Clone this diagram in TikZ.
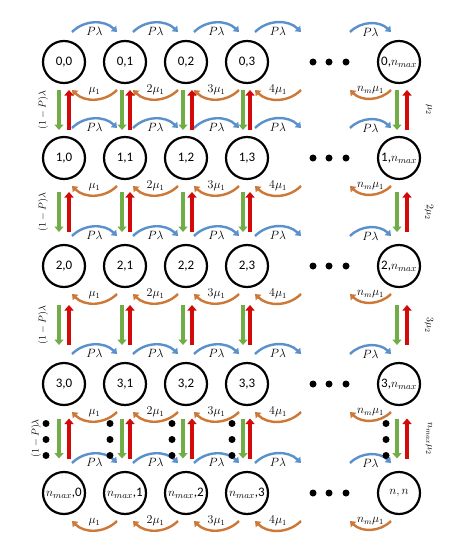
\documentclass[tikz,border=0pt]{standalone}
\usepackage{fontspec}
\setmainfont{Carlito}
\usetikzlibrary{arrows.meta,calc}
\definecolor{arcblue}{RGB}{90,145,205}
\definecolor{arcorange}{RGB}{205,120,55}
\definecolor{arrgreen}{RGB}{112,173,71}
\definecolor{arrred}{RGB}{210,10,10}
\tikzset{
  state/.style={draw, circle, line width=2.2pt, minimum size=42pt, inner sep=0pt, font=\fontsize{13}{15}\selectfont},
  parc/.style={draw=arcblue, line width=2.4pt, -{Triangle[width=7.5pt,length=5pt]}, bend left=45},
  marc/.style={draw=arcorange, line width=2.4pt, -{Triangle[width=7.5pt,length=5pt]}, bend left=45},
  downarr/.style={draw=arrgreen, line width=4.5pt, -{Triangle[width=9pt,length=5.5pt]}},
  uparr/.style={draw=arrred, line width=4.5pt, -{Triangle[width=9pt,length=5.5pt]}},
  rate/.style={font=\fontsize{12}{14}\selectfont, inner sep=1pt},
  siderate/.style={font=\fontsize{10}{12}\selectfont, inner sep=0pt},
  bigdot/.style={fill, circle, inner sep=0pt, minimum size=7pt},
}
\begin{document}
\begin{tikzpicture}[x=1pt,y=-1pt]
\useasboundingbox[fill=white] (0,0) rectangle (474,552);

% states
\node[state] (n00) at (64,62) {0,0};
\node[state] (n01) at (125,62) {0,1};
\node[state] (n02) at (186,62) {0,2};
\node[state] (n03) at (247,62) {0,3};
\node[state] (n0m) at (399,62) {0,$n_{max}$};

\node[state] (n10) at (64,158) {1,0};
\node[state] (n11) at (125,158) {1,1};
\node[state] (n12) at (186,158) {1,2};
\node[state] (n13) at (247,158) {1,3};
\node[state] (n1m) at (399,158) {1,$n_{max}$};

\node[state] (n20) at (64,266) {2,0};
\node[state] (n21) at (125,266) {2,1};
\node[state] (n22) at (186,266) {2,2};
\node[state] (n23) at (247,266) {2,3};
\node[state] (n2m) at (399,266) {2,$n_{max}$};

\node[state] (n30) at (64,384) {3,0};
\node[state] (n31) at (125,384) {3,1};
\node[state] (n32) at (186,384) {3,2};
\node[state] (n33) at (247,384) {3,3};
\node[state] (n3m) at (399,384) {3,$n_{max}$};

\node[state] (nm0) at (64,493) {$n_{max}$,0};
\node[state] (nm1) at (125,493) {$n_{max}$,1};
\node[state] (nm2) at (186,493) {$n_{max}$,2};
\node[state] (nm3) at (247,493) {$n_{max}$,3};
\node[state] (nmm) at (399,493) {$n, n$};

% gaps in each row
\foreach \r/\y in {0/62,1/158,2/266,3/384,m/493} {
  \coordinate (dl\r) at (309,\y);
  \coordinate (dr\r) at (342,\y);
  \foreach \k in {4,20,37}
    \node[bigdot] at ([xshift=\k pt]dl\r) {};
}

% horizontal rates
\foreach \r in {0,1,2,3,m} {
  \foreach \a/\b/\c in {n\r0/n\r1/{}, n\r1/n\r2/2, n\r2/n\r3/3, n\r3/dl\r/4, dr\r/n\r m/n_m} {
    \draw[parc] ([xshift=8pt,yshift=30pt]\a.center) to node[rate, below=2pt] {$P\lambda$} ([xshift=-8pt,yshift=30pt]\b.center);
    \draw[marc] ([xshift=-8pt,yshift=-28pt]\b.center) to node[rate, above=2pt] {$\c\mu_1$} ([xshift=8pt,yshift=-28pt]\a.center);
  }
}

% vertical rates
\foreach \p/\q in {0/1,1/2,2/3,3/m} {
  \foreach \c/\g/\h in {0/-5/5,1/-3/5,2/-3/6,3/-4/3,m/-2/8} {
    \draw[downarr] ($(n\p\c)!.5!(n\q\c)+(\g,-20)$) -- ++(0,40);
    \draw[uparr] ($(n\p\c)!.5!(n\q\c)+(\h,20)$) -- ++(0,-40);
  }
}

% side labels
\foreach \p/\q/\o in {0/1/-21,1/2/-21,2/3/-21,3/m/-28}
  \node[siderate, rotate=90] (left\p) at ($(n\p0)!.5!(n\q0)+(\o,0)$) {$(1-P)\lambda$};
\foreach \p/\q/\t in {0/1/{},1/2/2,2/3/3,3/m/n_{max}}
  \node[siderate, rotate=-90] (right\p) at ($(n\p m)!.5!(n\q m)+(30,0)$) {$\t\mu_2$};

% dots between the last two rows
\foreach \c/\d in {0/-18,1/-15,2/-14,3/-15,m/-13}
  \foreach \e in {-15,1,17}
    \node[bigdot] at ($(n3\c)!.5!(nm\c)+(\d,\e)$) {};
\end{tikzpicture}
\end{document}
